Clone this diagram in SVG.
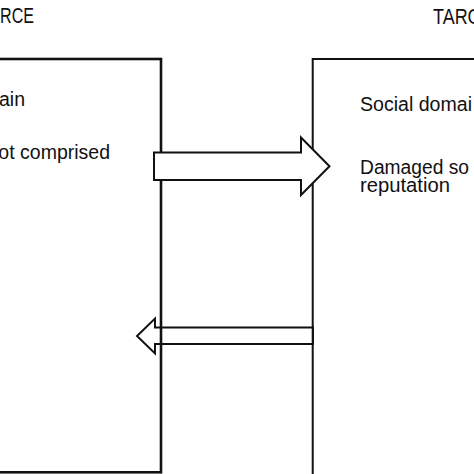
<svg xmlns="http://www.w3.org/2000/svg" width="474" height="474" viewBox="0 0 474 474">
  <style>
    .t { font-family: "Liberation Sans", Arial, sans-serif; font-size: 19.5px; fill: #111; }
    .title { font-family: "Liberation Sans", Arial, sans-serif; font-size: 21.5px; fill: #111; }
    .box { fill: none; stroke: #111; }
    .arrow { stroke: #111; stroke-width: 2; stroke-linejoin: miter; }
  </style>
  <rect x="0" y="0" width="474" height="474" fill="#fff"/>

  <g id="source">
    <text class="title" x="34" y="23" text-anchor="end" textLength="34" lengthAdjust="spacingAndGlyphs">RCE</text>
    <rect class="box" x="-5" y="59" width="166" height="413.3" stroke-width="2.6"/>
    <text class="t" x="25" y="105.5" text-anchor="end">ain</text>
    <text class="t" x="110" y="158.5" text-anchor="end">ot comprised</text>
  </g>

  <g id="target">
    <text class="title" x="433" y="24" textLength="48.6" lengthAdjust="spacingAndGlyphs">TARG</text>
    <rect class="box" x="312.7" y="59" width="200" height="500" stroke-width="2"/>
    <text class="t" x="360" y="110.5" textLength="112" lengthAdjust="spacingAndGlyphs">Social domai</text>
    <text class="t" x="360" y="174" textLength="109" lengthAdjust="spacingAndGlyphs">Damaged so</text>
    <text class="t" x="360" y="192" textLength="90" lengthAdjust="spacingAndGlyphs">reputation</text>
  </g>

  <g id="connectors">
    <polygon id="arrow-right" class="arrow" fill="#fff" points="154,152.5 301,152.5 301,137.5 329.5,166.2 301,195 301,180 154,180"/>
    <polygon id="arrow-left" class="arrow" fill="none" points="313,327.5 155,327.5 155,318.5 137,336 155,353.5 155,344 313,344"/>
  </g>
</svg>
